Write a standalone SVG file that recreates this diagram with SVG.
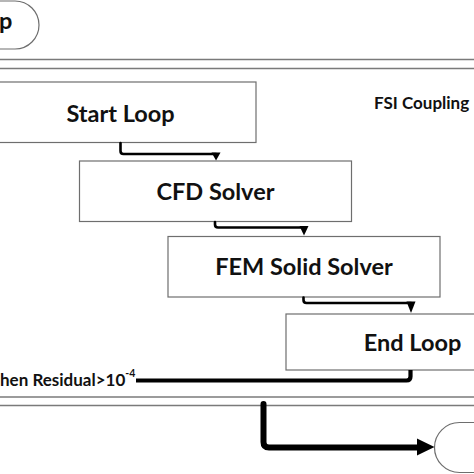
<svg xmlns="http://www.w3.org/2000/svg" width="474" height="474" viewBox="0 0 474 474">
<style>
  .box{fill:#fff;stroke:#6e6e6e;stroke-width:1.2}
  .sep{stroke:#7a7a7a;stroke-width:1.3;fill:none}
  .lbl{font-family:Lato,"Liberation Sans",sans-serif;font-weight:bold;fill:#111;font-size:23.5px;text-anchor:middle}
  .small{font-family:Lato,"Liberation Sans",sans-serif;font-weight:bold;fill:#111;font-size:17px}
  .con{fill:none;stroke:#000;stroke-width:2.6;stroke-linejoin:round;stroke-linecap:round}
  .thick{fill:none;stroke:#000;stroke-width:4.2;stroke-linejoin:round}
  .thicker{fill:none;stroke:#000;stroke-width:6;stroke-linejoin:round;stroke-linecap:round}
  .head{fill:#000}
</style>
<rect width="474" height="474" fill="#fff"/>
<g id="lanes">
  <line class="sep" x1="0" y1="59.5" x2="474" y2="59.5"/>
  <line class="sep" x1="0" y1="68.5" x2="474" y2="68.5"/>
  <line class="sep" x1="0" y1="397" x2="474" y2="397"/>
  <line class="sep" x1="0" y1="405.5" x2="474" y2="405.5"/>
</g>
<g id="start-terminal">
  <rect class="box" x="-60" y="1" width="99" height="48" rx="24"/>
  <text class="lbl" x="-1" y="29" style="text-anchor:start">p</text>
</g>
<g id="fsi-label">
  <text class="small" x="374" y="109">FSI Coupling</text>
</g>
<g id="start-loop">
  <rect class="box" x="-10" y="82" width="266" height="60.5"/>
  <text class="lbl" x="120.5" y="122">Start Loop</text>
</g>
<g id="cfd-solver">
  <rect class="box" x="79.5" y="161" width="272" height="60.5"/>
  <text class="lbl" x="215.5" y="199.5">CFD Solver</text>
</g>
<g id="fem-solver">
  <rect class="box" x="168" y="236.5" width="272" height="60.5"/>
  <text class="lbl" x="304" y="274.5">FEM Solid Solver</text>
</g>
<g id="end-loop">
  <rect class="box" x="286" y="314" width="200" height="56"/>
  <text class="lbl" x="412.5" y="351">End Loop</text>
</g>
<g id="end-terminal">
  <rect class="box" x="434.5" y="422.5" width="100" height="50" rx="25"/>
</g>
<g id="connectors">
  <path class="con" d="M120.5,143 V151 Q120.5,154 123.5,154 H216"/>
  <polygon class="head" points="211.5,152.5 220.5,152.5 216,160.5"/>
  <path class="con" d="M215,222 V224.5 Q215,227.5 218,227.5 H304"/>
  <polygon class="head" points="299.5,226 308.5,226 304,235.5"/>
  <path class="con" d="M303.5,297.5 V300 Q303.5,303 306.5,303 H411"/>
  <polygon class="head" points="406.5,301.5 415.5,301.5 411,313"/>
  <path class="thick" d="M410.5,370 V376.5 Q410.5,380.5 406.5,380.5 H136"/>
  <text class="small" x="0" y="386">hen Residual&gt;10<tspan dy="-9" font-size="10.5">-4</tspan></text>
  <path class="thicker" d="M263.5,404 V442 Q263.5,447.5 269,447.5 H420"/>
  <polygon class="head" points="417,438.5 434.5,447 417,455.5"/>
</g>
</svg>
